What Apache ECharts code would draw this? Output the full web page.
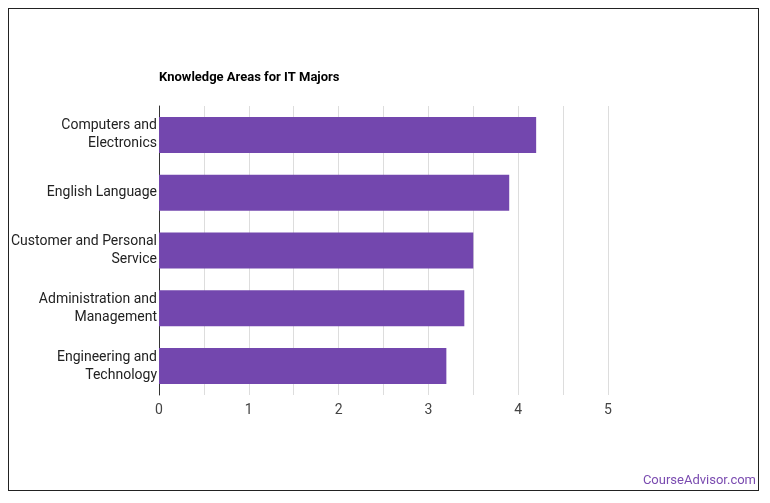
<!DOCTYPE html>
<html><head><meta charset="utf-8">
<script src="https://cdn.jsdelivr.net/npm/echarts@6/dist/echarts.min.js"></script>
<style>html,body{margin:0;padding:0;background:#fff}#box{position:absolute;left:8px;top:8px;width:751px;height:483px;border:1px solid #222;box-sizing:border-box}#c{width:770px;height:503px}</style>
</head><body><div id="box"></div><div id="c"></div>
<script>
const categories = ["Computers and\nElectronics","English Language","Customer and Personal\nService","Administration and\nManagement","Engineering and\nTechnology"];
const values = [4.2,3.9,3.5,3.4,3.2];
const chart = echarts.init(document.getElementById('c'));
chart.setOption({
  animation:false,
  title:{text:'Knowledge Areas for IT Majors',left:154,top:66,textStyle:{fontFamily:'Roboto',fontSize:13,fontWeight:'bold',color:'#000'}},
  graphic:[{type:'text',right:14,bottom:16,style:{text:'CourseAdvisor.com',fill:'#7a4bb0',font:'13px Roboto'}}],
  grid:{left:159,right:162,top:106,bottom:108},
  xAxis:{type:'value',min:0,max:5,interval:0.5,
    axisLabel:{fontFamily:'Roboto',fontSize:14,color:'#444',formatter:v=>Number.isInteger(v)?String(v):''},
    splitLine:{lineStyle:{color:'#ddd'}},axisLine:{show:false},axisTick:{show:false}},
  yAxis:{type:'category',inverse:true,data:categories,
    axisLine:{lineStyle:{color:'#333'}},axisTick:{show:false},
    axisLabel:{fontFamily:'Roboto',fontSize:14,color:'#222',lineHeight:18,margin:2,padding:[4,0,0,0]}},
  series:[{type:'bar',data:values,barWidth:36,itemStyle:{color:'#7347ae'}}]
});
</script></body></html>
